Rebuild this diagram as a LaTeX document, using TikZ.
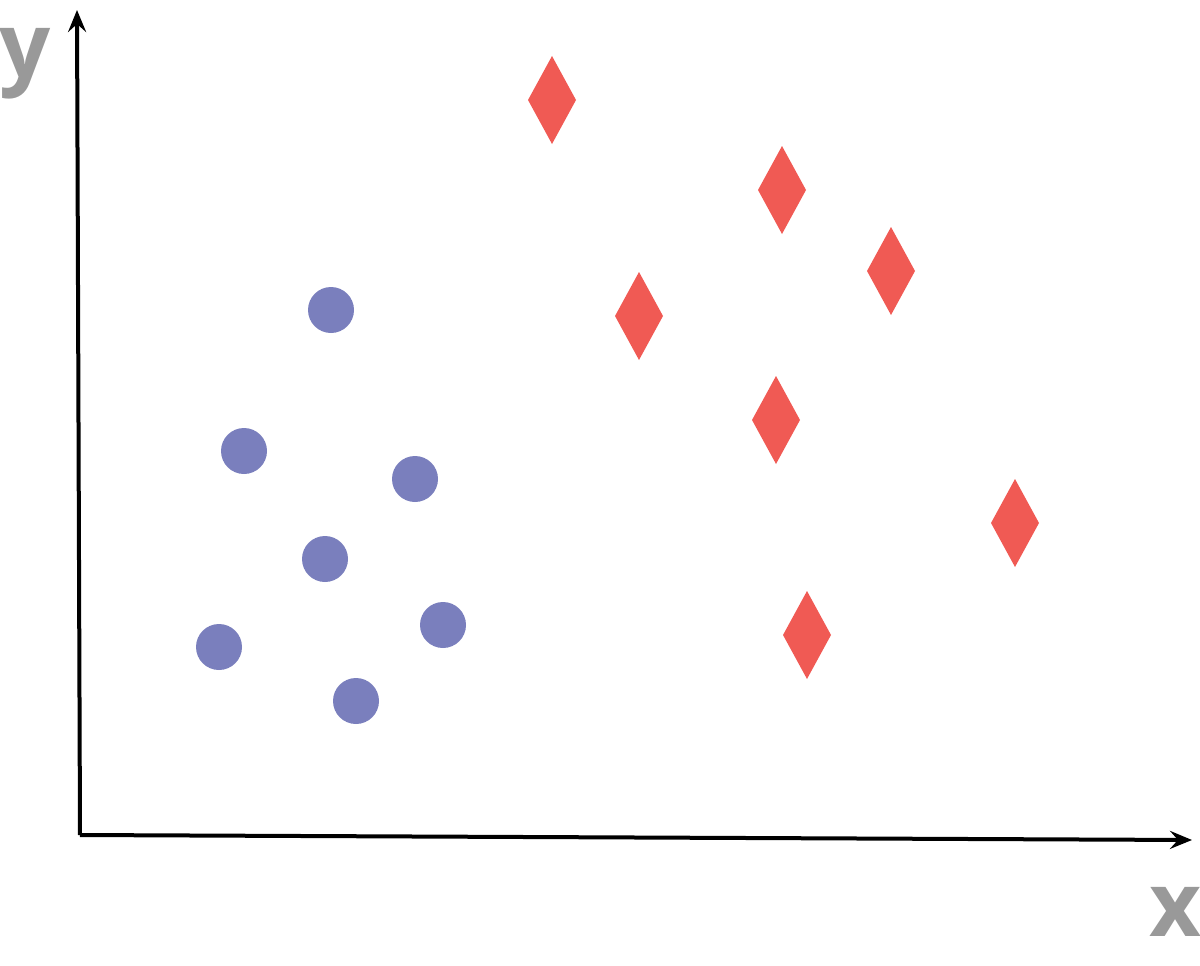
\documentclass[tikz,border=0pt]{standalone}
\usepackage{fontspec}
\setmainfont{Open Sans}
\usetikzlibrary{arrows.meta}
\definecolor{dotc}{HTML}{7A7FBD}
\definecolor{diac}{HTML}{F05A54}
\definecolor{labc}{HTML}{999999}
\begin{document}
\begin{tikzpicture}[x=1pt,y=-1pt,
  axis/.style={line width=4pt,-{Stealth[length=22pt,width=18pt,inset=8pt]}},
  dot/.style={circle,fill=dotc,minimum size=46pt,inner sep=0pt},
  lab/.style={text=labc,font=\fontsize{90}{90}\selectfont\bfseries,inner sep=0pt}]
\useasboundingbox (0,0) rectangle (1200,966);
\coordinate (o) at (80,835);
\coordinate (ye) at (77,10);
\coordinate (xe) at (1192,840);
\draw[axis] (o) -- (ye);
\draw[axis] (o) -- (xe);
\node[lab] (ly) at (25,64) {y};
\node[lab] (lx) at (1176,912) {x};
\foreach \i/\p in {1/{(331,310)},2/{(244,451)},3/{(415,479)},4/{(325,559)},5/{(219,647)},6/{(443,625)},7/{(356,701)}}
  \node[dot] (c\i) at \p {};
\foreach \i/\cx/\cy in {1/552/100,2/782/190,3/891/271,4/639/316,5/776/420,6/1015/523,7/807/635}
  \fill[diac] (\cx,\cy-44) -- (\cx+24,\cy) -- (\cx,\cy+44) -- (\cx-24,\cy) -- cycle;
\end{tikzpicture}
\end{document}
